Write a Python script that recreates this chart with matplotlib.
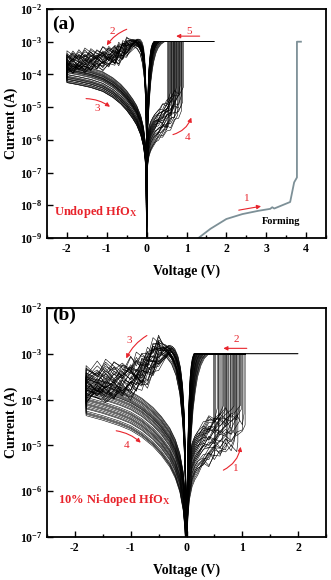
import numpy as np
import matplotlib
matplotlib.use('Agg')
import matplotlib.pyplot as plt
from matplotlib.ticker import FuncFormatter, MultipleLocator, FixedLocator, NullLocator

plt.rcParams['font.family'] = 'Liberation Serif'
plt.rcParams['font.weight'] = 'bold'
plt.rcParams['mathtext.fontset'] = 'custom'
plt.rcParams['mathtext.rm'] = 'Liberation Serif:bold'
plt.rcParams['mathtext.bf'] = 'Liberation Serif:bold'
plt.rcParams['mathtext.it'] = 'Liberation Serif:bold'

RED = '#e8242c'

# ---- shared jitter pattern for the noisy parts of the sweeps (decades) ----
wig = [0.0, 0.07, -0.04, 0.11, -0.06, 0.03, 0.13, -0.08, 0.05, -0.02, 0.09, -0.05, 0.02, -0.10, 0.06, 0.0, -0.07]

# ================= (a) undoped HfOx =================
# base branches, voltage in V and log10(current in A)
set_v_a = [0.0, 0.005, 0.015, 0.03, 0.06, 0.1, 0.15, 0.2, 0.3, 0.4, 0.5, 0.6, 0.7, 0.8, 0.9, 1.0]
set_log_a = [-10, -7.0, -6.6, -6.3, -6.05, -5.9, -5.78, -5.68, -5.55, -5.42, -5.3, -5.15, -5.02, -4.92, -4.85, -4.8]
lrs_v_a = [0.25, 0.2, 0.16, 0.13, 0.1, 0.08, 0.06, 0.045, 0.03, 0.018, 0.008, 0.0]
lrs_log_a = [-3.0, -3.08, -3.2, -3.35, -3.6, -3.85, -4.2, -4.6, -5.1, -5.6, -6.3, -10]
rise_v_a = [0.0, -0.003, -0.01, -0.02, -0.04, -0.07, -0.11, -0.16, -0.22, -0.3]
rise_log_a = [-10, -6.3, -5.3, -4.6, -4.0, -3.55, -3.25, -3.1, -3.02, -3.0]
rst_v_a = [-0.5, -0.6, -0.7, -0.8, -0.95, -1.1, -1.25, -1.4, -1.55, -1.7, -1.85, -2.0]
rst_log_a = [-3.2, -3.3, -3.38, -3.45, -3.5, -3.55, -3.58, -3.6, -3.62, -3.64, -3.66, -3.68]
ret_v_a = [-2.0, -1.7, -1.4, -1.1, -0.85, -0.65, -0.5, -0.35, -0.25, -0.15, -0.08, -0.04, -0.015, 0.0]
ret_log_a = [-3.95, -4.02, -4.1, -4.22, -4.4, -4.6, -4.8, -5.05, -5.25, -5.55, -5.9, -6.3, -6.8, -10]

# per-cycle values
vmax_a = [1.7, 0.95, 0.95, 0.95, 0.95, 0.95, 0.95, 0.95, 0.95, 0.95, 0.95, 0.95, 0.95, 0.95, 0.95,
          0.95, 0.95, 0.95, 0.95, 0.95, 0.95, 0.95, 0.95, 0.95, 0.95, 0.95, 0.95, 0.95, 0.95, 0.95]
vset_a = [0.52, 0.55, 0.58, 0.60, 0.62, 0.64, 0.66, 0.68, 0.70, 0.72, 0.74, 0.76, 0.78, 0.80, 0.82,
          0.84, 0.86, 0.88, 0.90, 0.92, 0.56, 0.63, 0.67, 0.71, 0.75, 0.79, 0.83, 0.87, 0.61, 0.69]
hrs_a = [0.3, -0.2, 0.1, 0.45, -0.4, 0.0, 0.2, -0.1, 0.35, -0.3, 0.05, 0.25, -0.45, 0.15, -0.05,
         0.4, -0.25, 0.1, -0.15, 0.3, -0.35, 0.2, 0.0, -0.2, 0.45, -0.1, 0.15, -0.4, 0.25, 0.05]
lrs_sa = [0.8, 1.0, 1.3, 0.7, 1.6, 0.9, 1.2, 1.1, 0.75, 1.45, 1.0, 0.85, 1.25, 0.95, 1.8,
          0.85, 1.15, 1.05, 1.5, 0.7, 1.35, 0.9, 1.2, 1.0, 0.8, 1.7, 1.1, 0.75, 1.25, 0.8]
rise_sa = [1.0, 0.8, 1.3, 0.7, 1.5, 0.9, 1.2, 1.1, 0.75, 1.4, 1.0, 0.8, 1.25, 0.95, 1.35,
           0.85, 1.45, 1.05, 1.4, 0.75, 1.3, 0.7, 1.2, 1.0, 0.8, 1.45, 1.1, 0.9, 1.25, 0.8]
peak_oa = [0.05, -0.05, 0.0, 0.08, -0.12, 0.02, -0.08, 0.06, -0.02, 0.04, -0.1, 0.06, -0.04, 0.0, 0.07,
           -0.14, 0.03, -0.06, 0.05, -0.01, 0.04, -0.09, 0.02, -0.03, 0.08, -0.11, 0.01, 0.06, -0.07, 0.03]
rst_oa = [0.1, -0.15, 0.2, -0.05, 0.12, -0.2, 0.05, 0.16, -0.1, 0.2, -0.08, 0.0, 0.14, -0.18, 0.06,
          -0.02, 0.18, -0.12, 0.1, -0.06, 0.2, -0.1, 0.02, 0.13, -0.16, 0.05, -0.2, 0.15, -0.04, 0.08]
ret_oa = [0.2, -0.15, 0.1, -0.3, 0.15, 0.0, -0.2, 0.25, -0.1, 0.1, -0.28, 0.18, -0.05, 0.3, -0.18,
          0.05, -0.25, 0.12, -0.12, 0.22, -0.3, 0.06, 0.16, -0.2, 0.08, -0.06, 0.28, -0.14, 0.02, -0.24]

# forming sweep
form_v = [1.3, 1.6, 2.0, 2.4, 2.8, 3.1, 3.15, 3.2, 3.4, 3.6, 3.7, 3.77, 3.77, 3.87]
form_log = [-9.0, -8.72, -8.42, -8.27, -8.17, -8.11, -8.06, -8.1, -8.0, -7.9, -7.3, -7.15, -3.0, -3.0]

# ================= (b) 10% Ni-doped HfOx =================
set_v_b = [0.0, 0.004, 0.012, 0.025, 0.05, 0.1, 0.15, 0.2, 0.3, 0.4, 0.5, 0.6, 0.7, 0.8, 0.9, 1.0, 1.1]
set_log_b = [-7.6, -7.0, -6.5, -6.1, -5.7, -5.4, -5.25, -5.15, -5.0, -4.9, -4.82, -4.76, -4.72, -4.7, -4.68, -4.66, -4.65]
lrs_v_b = [0.2, 0.16, 0.13, 0.1, 0.08, 0.06, 0.045, 0.03, 0.02, 0.01, 0.0]
lrs_log_b = [-3.0, -3.1, -3.25, -3.5, -3.8, -4.2, -4.7, -5.3, -5.8, -6.5, -7.6]
rise_v_b = [0.0, -0.004, -0.012, -0.025, -0.05, -0.09, -0.14, -0.2, -0.27, -0.33]
rise_log_b = [-7.6, -6.8, -6.0, -5.2, -4.4, -3.75, -3.35, -3.1, -2.95, -2.9]
rst_v_b = [-0.5, -0.6, -0.7, -0.8, -0.9, -1.0, -1.15, -1.3, -1.45, -1.6, -1.8]
rst_log_b = [-3.0, -3.15, -3.3, -3.42, -3.5, -3.55, -3.6, -3.63, -3.65, -3.67, -3.7]
ret_v_b = [-1.8, -1.5, -1.2, -1.0, -0.8, -0.6, -0.45, -0.3, -0.2, -0.12, -0.06, -0.03, -0.01, 0.0]
ret_log_b = [-3.9, -4.0, -4.12, -4.22, -4.37, -4.57, -4.77, -5.02, -5.27, -5.57, -5.97, -6.37, -6.9, -7.6]

vmax_b = [2.0, 1.06, 1.06, 1.06, 1.06, 1.06, 1.06, 1.06, 1.06, 1.06, 1.06, 1.06, 1.06, 1.06, 1.06, 1.06, 1.06,
          1.06, 1.06, 1.06, 1.06, 1.06, 1.06, 1.06, 1.06, 1.06, 1.06, 1.06, 1.06, 1.06, 1.06, 1.06, 1.06, 1.06]
vset_b = [0.48, 0.52, 0.55, 0.58, 0.62, 0.65, 0.68, 0.70, 0.72, 0.75, 0.78, 0.80, 0.82, 0.85, 0.88, 0.90, 0.92,
          0.95, 0.98, 1.00, 1.03, 0.50, 0.60, 0.66, 0.74, 0.79, 0.84, 0.89, 0.94, 0.57, 0.71, 0.86, 0.97, 1.05]
hrs_b = [0.2, -0.3, 0.45, -0.1, 0.3, -0.45, 0.0, 0.35, -0.2, 0.1, -0.35, 0.25, -0.05, 0.4, -0.25, 0.15, -0.4,
         0.05, 0.3, -0.15, 0.2, -0.5, 0.1, 0.45, -0.3, 0.0, 0.25, -0.2, 0.35, -0.1, 0.15, -0.35, 0.4, -0.05]
lrs_sb = [0.65, 1.2, 0.8, 1.7, 1.0, 0.7, 1.4, 0.9, 2.0, 1.1, 0.75, 1.6, 1.3, 0.65, 1.8, 0.95, 1.5,
          0.75, 1.25, 0.7, 1.9, 1.05, 0.85, 1.45, 0.7, 1.35, 1.15, 0.8, 1.75, 0.9, 1.55, 0.75, 1.2, 1.0]
rise_sb = [1.0, 0.85, 1.2, 0.95, 1.35, 0.8, 1.1, 1.25, 0.9, 1.4, 1.05, 0.78, 1.15, 1.3, 0.88, 1.0, 1.22,
           0.82, 1.38, 0.92, 1.08, 1.28, 0.76, 1.18, 0.98, 1.33, 0.86, 1.12, 1.02, 1.26, 0.94, 1.16, 0.84, 1.36]
peak_ob = [0.05, -0.05, 0.0, 0.08, -0.12, 0.02, -0.08, 0.1, -0.02, 0.04, -0.1, 0.06, -0.04, 0.0, 0.09, -0.14, 0.03,
           -0.06, 0.07, -0.01, 0.05, -0.09, 0.02, -0.03, 0.08, -0.11, 0.01, 0.06, -0.07, 0.04, -0.02, 0.1, -0.05, 0.0]
rst_ob = [0.1, -0.2, 0.25, -0.05, 0.15, -0.3, 0.05, 0.2, -0.15, 0.3, -0.1, 0.0, 0.18, -0.25, 0.08, -0.02, 0.22,
          -0.18, 0.12, -0.08, 0.28, -0.12, 0.02, 0.16, -0.22, 0.06, -0.28, 0.2, -0.04, 0.1, -0.16, 0.26, -0.06, 0.14]
ret_ob = [0.3, -0.2, 0.1, -0.4, 0.2, 0.0, -0.3, 0.35, -0.1, 0.15, -0.45, 0.25, -0.05, 0.4, -0.25, 0.05, -0.35,
          0.18, -0.15, 0.32, -0.42, 0.08, 0.22, -0.28, 0.12, -0.08, 0.38, -0.18, 0.02, -0.38, 0.28, -0.12, 0.16, -0.22]


def build_cycle(i, set_v, set_log, vset, hrs, vmax, lrs_v, lrs_log, lrs_s,
                rise_v, rise_log, rise_s, peak_o, rst_v, rst_log, rst_o,
                ret_v, ret_log, ret_o, amp):
    v, lg = [], []
    # positive sweep in HRS up to the set voltage
    for j, (x, y) in enumerate(zip(set_v, set_log)):
        if x >= vset[i]:
            break
        w = wig[(i * 3 + j) % len(wig)] * amp if x > 0.25 else 0.0
        v.append(x)
        lg.append(y + hrs[i] + w)
    y_set = np.interp(vset[i], set_v, set_log) + hrs[i] + 0.15
    v += [vset[i], vset[i], vmax[i]]
    lg += [y_set, -3.0, -3.0]
    # return to 0 V in LRS
    s = lrs_s[i]
    v += [x * s for x in lrs_v]
    lg += list(lrs_log)
    # negative sweep, LRS then reset
    s = rise_s[i]
    v += [x * s for x in rise_v]
    lg += [y + peak_o[i] for y in rise_log]
    for j, (x, y) in enumerate(zip(rst_v, rst_log)):
        if x < rise_v[-1] * s:
            v.append(x)
            lg.append(y + peak_o[i] * 0.5 + rst_o[i] + wig[(i * 5 + j) % len(wig)] * amp * 1.6)
    # back to 0 V in HRS
    v += list(ret_v)
    lg += [y + ret_o[i] for y in ret_log]
    return np.array(v), 10.0 ** np.array(lg)


def style_axis(ax, xlim, ylim_exp, xticks):
    ax.set_yscale('log')
    ax.set_xlim(*xlim)
    ax.set_ylim(10.0 ** ylim_exp[0], 10.0 ** ylim_exp[1])
    ax.xaxis.set_major_locator(FixedLocator(xticks))
    ax.xaxis.set_minor_locator(MultipleLocator(0.5))
    ax.yaxis.set_major_locator(FixedLocator([10.0 ** e for e in range(ylim_exp[0], ylim_exp[1] + 1)]))
    ax.yaxis.set_minor_locator(NullLocator())
    ax.yaxis.set_major_formatter(FuncFormatter(lambda y, p: r'$\mathbf{10^{%d}}$' % round(np.log10(y))))
    ax.xaxis.set_major_formatter(FuncFormatter(lambda x, p: '%d' % round(x)))
    ax.tick_params(which='both', direction='in', top=False, right=False, labelsize=8.5, width=1.0)
    ax.tick_params(which='major', length=4)
    ax.tick_params(which='minor', length=2.5)
    for sp in ax.spines.values():
        sp.set_linewidth(1.3)
    ax.set_xlabel('Voltage (V)', fontsize=10, fontweight='bold', labelpad=7)
    ax.set_ylabel('Current (A)', fontsize=10, fontweight='bold', labelpad=1)


def red_arrow(ax, start, end, rad):
    ax.annotate('', xy=(end[0], 10.0 ** end[1]), xytext=(start[0], 10.0 ** start[1]),
                arrowprops=dict(arrowstyle='-|>', color=RED, lw=0.8, mutation_scale=6,
                                shrinkA=0, shrinkB=0, connectionstyle='arc3,rad=%g' % rad))


def red_num(ax, x, ylog, s):
    ax.text(x, 10.0 ** ylog, s, color=RED, fontsize=8, fontweight='normal', ha='center', va='center')


fig = plt.figure(figsize=(3.31, 5.8), dpi=100)
ax_a = fig.add_axes([0.142, 0.5897, 0.843, 0.3948])
ax_b = fig.add_axes([0.142, 0.0741, 0.843, 0.3948])

# --- (a)
for i in range(len(vset_a)):
    v, cur = build_cycle(i, set_v_a, set_log_a, vset_a, hrs_a, vmax_a, lrs_v_a, lrs_log_a, lrs_sa,
                         rise_v_a, rise_log_a, rise_sa, peak_oa, rst_v_a, rst_log_a, rst_oa,
                         ret_v_a, ret_log_a, ret_oa, 1.0)
    ax_a.plot(v, cur, color='black', lw=0.4)
ax_a.plot(form_v, 10.0 ** np.array(form_log), color='#7d9097', lw=1.3)
style_axis(ax_a, (-2.5, 4.5), (-9, -2), [-2, -1, 0, 1, 2, 3, 4])

ax_a.text(-2.38, 10 ** -2.47, '(a)', fontsize=14, fontweight='bold', va='center')
ax_a.text(-2.33, 10 ** -8.2, r'Undoped HfO$_\mathbf{X}$', color=RED, fontsize=9, fontweight='bold', va='center')
ax_a.text(3.37, 10 ** -8.5, 'Forming', fontsize=7.5, fontweight='bold', ha='center', va='center')
red_num(ax_a, -0.87, -2.69, '2')
red_arrow(ax_a, (-0.5, -2.62), (-1.0, -3.11), 0.15)
red_num(ax_a, -1.23, -5.04, '3')
red_arrow(ax_a, (-1.52, -4.74), (-0.92, -4.99), -0.15)
red_num(ax_a, 1.02, -5.92, '4')
red_arrow(ax_a, (0.66, -5.84), (1.12, -5.32), 0.25)
red_num(ax_a, 1.07, -2.68, '5')
red_arrow(ax_a, (1.33, -2.83), (0.74, -2.83), 0.0)
red_num(ax_a, 2.5, -7.8, '1')
red_arrow(ax_a, (2.31, -8.15), (2.87, -8.03), 0.0)

# --- (b)
for i in range(len(vset_b)):
    v, cur = build_cycle(i, set_v_b, set_log_b, vset_b, hrs_b, vmax_b, lrs_v_b, lrs_log_b, lrs_sb,
                         rise_v_b, rise_log_b, rise_sb, peak_ob, rst_v_b, rst_log_b, rst_ob,
                         ret_v_b, ret_log_b, ret_ob, 1.1)
    ax_b.plot(v, cur, color='black', lw=0.4)
style_axis(ax_b, (-2.5, 2.5), (-7, -2), [-2, -1, 0, 1, 2])

ax_b.text(-2.4, 10 ** -2.15, '(b)', fontsize=14, fontweight='bold', va='center')
ax_b.text(-2.3, 10 ** -6.2, r'10% Ni-doped HfO$_\mathbf{X}$', color=RED, fontsize=9, fontweight='bold', va='center')
red_num(ax_b, -1.02, -2.71, '3')
red_arrow(ax_b, (-0.71, -2.6), (-1.08, -3.1), 0.15)
red_num(ax_b, 0.89, -2.68, '2')
red_arrow(ax_b, (1.08, -2.88), (0.66, -2.88), 0.0)
red_num(ax_b, -1.08, -5.01, '4')
red_arrow(ax_b, (-1.26, -4.68), (-0.82, -4.94), -0.15)
red_num(ax_b, 0.89, -5.5, '1')
red_arrow(ax_b, (0.66, -5.54), (0.97, -5.03), 0.25)

fig.savefig('out.png', dpi=100)
